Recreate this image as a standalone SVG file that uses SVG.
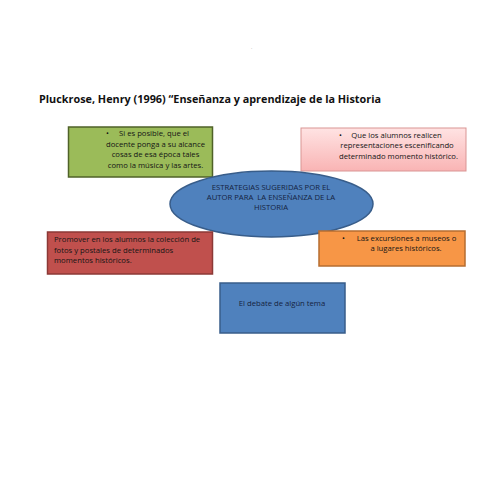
<svg xmlns="http://www.w3.org/2000/svg" width="495" height="495" viewBox="0 0 495 495">
<style>
.t{font-family:"Open Sans","Liberation Sans",sans-serif;font-size:7.7px;fill:#151515}
.c{text-anchor:middle}
.title{font-family:"Open Sans","DejaVu Sans",sans-serif;font-weight:bold;font-size:11px;fill:#111}
.dk{fill:#15233f}
</style>
<defs>
<linearGradient id="pk" x1="0" y1="0" x2="0" y2="1">
<stop offset="0" stop-color="#ffe3e3"/><stop offset="1" stop-color="#f9b4b4"/>
</linearGradient>
</defs>
<rect width="495" height="495" fill="#fff"/>
<text x="251" y="49" class="t" style="font-size:5px;fill:#999">.</text>
<text x="39" y="103" class="title" textLength="342" lengthAdjust="spacingAndGlyphs">Pluckrose, Henry (1996) “Enseñanza y aprendizaje de la Historia</text>
<g id="connectors"></g>
<g id="n-green">
<rect x="68.5" y="127" width="144" height="50" fill="#9bbb59" stroke="#4f6228" stroke-width="1.5"/>
<text class="t" x="106" y="136">•</text>
<text class="t c" x="154" y="136">Si es posible, que el</text>
<text class="t c" x="155.5" y="147">docente ponga a su alcance</text>
<text class="t c" x="155.5" y="157">cosas de esa época tales</text>
<text class="t c" x="155.5" y="167.5">como la música y las artes.</text>
</g>
<g id="n-pink">
<rect x="301" y="128" width="165" height="43" fill="url(#pk)" stroke="#d99594" stroke-width="1"/>
<text class="t" x="339" y="137.5">•</text>
<text class="t c" x="396.5" y="137.5">Que los alumnos realicen</text>
<text class="t c" x="397" y="148">representaciones escenificando</text>
<text class="t c" x="398.5" y="158.5">determinado momento histórico.</text>
</g>
<g id="n-center">
<ellipse cx="271.5" cy="204" rx="101.5" ry="33" fill="#4f81bd" stroke="#385d8a" stroke-width="1.5"/>
<text class="t c dk" x="271" y="190">ESTRATEGIAS SUGERIDAS POR EL</text>
<text class="t c dk" x="271" y="200" xml:space="preserve">AUTOR PARA  LA ENSEÑANZA DE LA</text>
<text class="t c dk" x="271" y="210">HISTORIA</text>
</g>
<g id="n-red">
<rect x="47.5" y="232" width="165" height="42" fill="#c0504d" stroke="#8c3836" stroke-width="1.5"/>
<text class="t" x="54" y="242">Promover en los alumnos la colección de</text>
<text class="t" x="54" y="252.5">fotos y postales de determinados</text>
<text class="t" x="54" y="262.5">momentos históricos.</text>
</g>
<g id="n-orange">
<rect x="319" y="231" width="146" height="35" fill="#f79646" stroke="#b66d31" stroke-width="1.5"/>
<text class="t" x="342" y="241">•</text>
<text class="t c" x="406.5" y="241">Las excursiones a museos o</text>
<text class="t c" x="406" y="251">a lugares históricos.</text>
</g>
<g id="n-blue">
<rect x="220" y="283" width="125" height="50" fill="#4f81bd" stroke="#385d8a" stroke-width="1.5"/>
<text class="t c dk" x="282" y="306">El debate de algún tema</text>
</g>
</svg>
